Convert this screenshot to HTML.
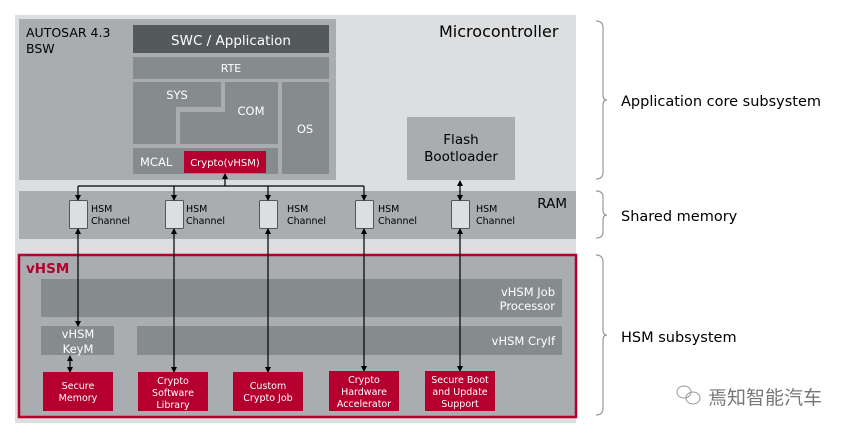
<!DOCTYPE html>
<html><head><meta charset="utf-8"><style>
body{margin:0;background:#fff;}
svg{display:block;font-family:"DejaVu Sans","Liberation Sans",sans-serif;}
</style></head><body>
<svg width="862" height="434" viewBox="0 0 862 434" xmlns="http://www.w3.org/2000/svg">
<defs>
<marker id="a" markerWidth="6" markerHeight="6" refX="5" refY="3" orient="auto" markerUnits="userSpaceOnUse"><path d="M0,0 L6,3 L0,6 z" fill="#000"/></marker>
</defs>
<rect x="15" y="15" width="561" height="408" fill="#dcdee0"/>
<rect x="19" y="19" width="317" height="161" fill="#a9adb0"/>
<text x="26" y="37" font-size="12.5" fill="#000">AUTOSAR 4.3</text>
<text x="26" y="53" font-size="12.5" fill="#000">BSW</text>
<text x="439" y="37" font-size="16" fill="#000">Microcontroller</text>
<rect x="133" y="25" width="196" height="28" fill="#54595c"/>
<text x="231" y="45" font-size="13.5" fill="#fff" text-anchor="middle">SWC / Application</text>
<rect x="133" y="57" width="196" height="22" fill="#868b8e"/>
<text x="231" y="72" font-size="11" fill="#fff" text-anchor="middle">RTE</text>
<path d="M133,82 H221 V107 H176 V144 H133 z" fill="#868b8e"/>
<text x="177" y="99" font-size="11.5" fill="#fff" text-anchor="middle">SYS</text>
<path d="M225,82 H278 V144 H180 V112 H225 z" fill="#868b8e"/>
<text x="251" y="115" font-size="11.5" fill="#fff" text-anchor="middle">COM</text>
<rect x="282" y="82" width="47" height="92" fill="#868b8e"/>
<text x="305" y="133" font-size="11.5" fill="#fff" text-anchor="middle">OS</text>
<rect x="133" y="148" width="145" height="26" fill="#868b8e"/>
<text x="140" y="166" font-size="11.5" fill="#fff">MCAL</text>
<rect x="184" y="151" width="82" height="22" fill="#b5002f"/>
<text x="225" y="166" font-size="10" fill="#fff" text-anchor="middle">Crypto(vHSM)</text>
<rect x="407" y="117" width="108" height="63" fill="#a9adb0"/>
<text x="461" y="144" font-size="13.5" fill="#000" text-anchor="middle">Flash</text>
<text x="461" y="161" font-size="13.5" fill="#000" text-anchor="middle">Bootloader</text>
<rect x="19" y="191" width="557" height="48" fill="#a9adb0"/>
<text x="567" y="208" font-size="13.5" fill="#000" text-anchor="end">RAM</text>
<g fill="#dcdee0" stroke="#555" stroke-width="1">
<rect x="69.5" y="200.5" width="18" height="28" rx="1"/>
<rect x="165.5" y="200.5" width="18" height="28" rx="1"/>
<rect x="259.5" y="200.5" width="18" height="28" rx="1"/>
<rect x="355.5" y="200.5" width="18" height="28" rx="1"/>
<rect x="451.5" y="200.5" width="18" height="28" rx="1"/>
</g>
<g font-size="9.5" fill="#000">
<text x="91" y="212">HSM</text><text x="91" y="224">Channel</text>
<text x="186" y="212">HSM</text><text x="186" y="224">Channel</text>
<text x="287" y="212">HSM</text><text x="287" y="224">Channel</text>
<text x="378" y="212">HSM</text><text x="378" y="224">Channel</text>
<text x="476" y="212">HSM</text><text x="476" y="224">Channel</text>
</g>
<rect x="19" y="255" width="557" height="162" fill="#a9adb0" stroke="#b5002f" stroke-width="2.5"/>
<text x="26" y="273" font-size="13.5" font-weight="bold" fill="#b5002f">vHSM</text>
<rect x="41" y="279" width="521" height="38" fill="#868b8e"/>
<text x="555" y="296" font-size="11.5" fill="#fff" text-anchor="end">vHSM Job</text>
<text x="555" y="310" font-size="11.5" fill="#fff" text-anchor="end">Processor</text>
<rect x="41" y="326" width="73" height="29" fill="#868b8e"/>
<text x="78" y="338" font-size="11.5" fill="#fff" text-anchor="middle">vHSM</text>
<text x="78" y="353" font-size="11.5" fill="#fff" text-anchor="middle">KeyM</text>
<rect x="137" y="326" width="425" height="29" fill="#868b8e"/>
<text x="555" y="345" font-size="11.5" fill="#fff" text-anchor="end">vHSM CryIf</text>
<g fill="#b5002f">
<rect x="43" y="372" width="70" height="39"/>
<rect x="138" y="372" width="70" height="39"/>
<rect x="233" y="372" width="70" height="39"/>
<rect x="329" y="371" width="70" height="40"/>
<rect x="425" y="371" width="70" height="40"/>
</g>
<g font-size="9.5" fill="#fff" text-anchor="middle">
<text x="78" y="389">Secure</text><text x="78" y="401">Memory</text>
<text x="173" y="384">Crypto</text><text x="173" y="396">Software</text><text x="173" y="408">Library</text>
<text x="268" y="389">Custom</text><text x="268" y="401">Crypto Job</text>
<text x="364" y="383">Crypto</text><text x="364" y="395">Hardware</text><text x="364" y="407">Accelerator</text>
<text x="460" y="383">Secure Boot</text><text x="460" y="395">and Update</text><text x="460" y="407">Support</text>
</g>
<g stroke="#000" stroke-width="1.2" fill="none">
<line x1="225" y1="186" x2="225" y2="174" marker-end="url(#a)"/>
<line x1="78" y1="186" x2="364" y2="186"/>
<line x1="78" y1="186" x2="78" y2="200" marker-end="url(#a)"/>
<line x1="174" y1="186" x2="174" y2="200" marker-end="url(#a)"/>
<line x1="268" y1="186" x2="268" y2="200" marker-end="url(#a)"/>
<line x1="364" y1="186" x2="364" y2="200" marker-end="url(#a)"/>
<line x1="460" y1="192" x2="460" y2="181" marker-end="url(#a)"/>
<line x1="460" y1="190" x2="460" y2="200" marker-end="url(#a)"/>
<line x1="78" y1="236" x2="78" y2="229" marker-end="url(#a)"/>
<line x1="78" y1="234" x2="78" y2="326" marker-end="url(#a)"/>
<line x1="174" y1="236" x2="174" y2="229" marker-end="url(#a)"/>
<line x1="174" y1="234" x2="174" y2="372" marker-end="url(#a)"/>
<line x1="268" y1="236" x2="268" y2="229" marker-end="url(#a)"/>
<line x1="268" y1="234" x2="268" y2="372" marker-end="url(#a)"/>
<line x1="364" y1="236" x2="364" y2="229" marker-end="url(#a)"/>
<line x1="364" y1="234" x2="364" y2="371" marker-end="url(#a)"/>
<line x1="460" y1="236" x2="460" y2="229" marker-end="url(#a)"/>
<line x1="460" y1="234" x2="460" y2="371" marker-end="url(#a)"/>
<line x1="70" y1="364" x2="70" y2="356" marker-end="url(#a)"/>
<line x1="70" y1="362" x2="70" y2="372" marker-end="url(#a)"/>
</g>
<g stroke="#999" stroke-width="1.2" fill="none">
<path d="M596,21 Q603,21 603,28 V95 Q603,100 607,100 Q603,100 603,105 V172 Q603,179 596,179"/>
<path d="M596,191 Q603,191 603,197 V210 Q603,215 607,215 Q603,215 603,220 V232 Q603,238 596,238"/>
<path d="M596,255 Q603,255 603,262 V330 Q603,335 607,335 Q603,335 603,340 V408 Q603,415 596,415"/>
</g>
<g font-size="14.5" fill="#000">
<text x="621" y="106">Application core subsystem</text>
<text x="621" y="221">Shared memory</text>
<text x="621" y="342">HSM subsystem</text>
</g>
<g stroke="#999" fill="none" stroke-width="1">
<ellipse cx="684" cy="392" rx="7" ry="6"/>
<ellipse cx="693" cy="398" rx="7" ry="6"/>
</g>
<text x="708" y="404" font-size="19" fill="#777" font-family="'Noto Sans CJK SC',sans-serif">焉知智能汽车</text>
</svg>
</body></html>
